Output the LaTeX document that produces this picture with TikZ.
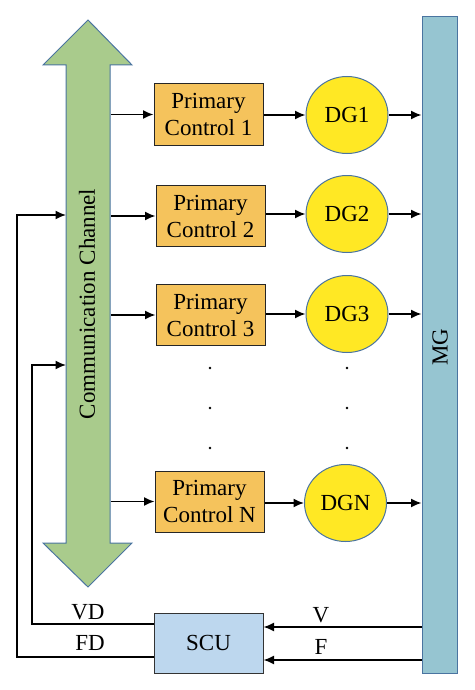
\documentclass[tikz,border=0pt]{standalone}
\usepackage{fontspec}
\setmainfont{Liberation Serif}
\newfontfamily\serifface{Liberation Serif}
\usetikzlibrary{arrows.meta,shapes.geometric}

\definecolor{chgreen}{HTML}{A9CB8C}
\definecolor{chedge}{HTML}{4A74A0}
\definecolor{pcfill}{HTML}{F5C35C}
\definecolor{dgfill}{HTML}{FFE824}
\definecolor{mgfill}{HTML}{96C5D1}
\definecolor{scufill}{HTML}{BDD7EE}

\tikzset{
  txt/.style={font=\serifface\fontsize{23}{27}\selectfont},
  pcbox/.style={txt, draw=black!85, fill=pcfill, line width=1, minimum width=109, minimum height=61, align=center, inner sep=0pt},
  dgnode/.style={txt, ellipse, draw=chedge, fill=dgfill, line width=1, minimum width=82, minimum height=77, inner sep=0pt},
  link/.style={black, line width=1.5, ->, >={Latex[length=10.5pt,width=9pt]}},
}

\begin{document}
\begin{tikzpicture}[x=1pt,y=-1pt]
  \useasboundingbox (0,0) rectangle (474,690);
  % communication channel
  \draw[chedge, fill=chgreen, line width=1] (88,20) -- (132,65) -- (110,65) -- (110,543) -- (132,543)
     -- (88,587) -- (43,543) -- (66,543) -- (66,65) -- (43,65) -- cycle;
  \node[txt, rotate=90] (cc) at (87,304) {Communication Channel};
  \coordinate (chR) at (111,0);
  \coordinate (vdin) at (66,365);
  \coordinate (fdin) at (66,215);
  % MG bus
  \node[draw=chedge, fill=mgfill, line width=1, minimum width=35, minimum height=656, inner sep=0pt] (mg) at (439.5,345) {};
  \node[txt, rotate=90] (mgtxt) at (440,347) {MG};
  % primary controls and DGs
  \node[pcbox] (pc1) at (208.5,114.5) {Primary\\Control 1};
  \node[pcbox] (pc2) at (210.5,216) {Primary\\Control 2};
  \node[pcbox] (pc3) at (210.5,315) {Primary\\Control 3};
  \node[pcbox] (pcN) at (209.5,501.5) {Primary\\Control N};
  \node[dgnode] (dg1) at (347,115) {DG1};
  \node[dgnode] (dg2) at (347,214) {DG2};
  \node[dgnode] (dg3) at (347,314) {DG3};
  \node[dgnode] (dgN) at (345.5,503) {DGN};
  \foreach \p/\d in {pc1/dg1,pc2/dg2,pc3/dg3,pcN/dgN}{
    \draw[link] (chR |- \p.west) -- (\p.west);
    \draw[link] (\p.east |- \d.west) -- (\d.west);
    \draw[link] (\d.east) -- (\d.east -| mg.west);
  }
  % dots
  \foreach \y in {368,408,448}{
    \fill (210,\y) circle (1.3);
    \fill (347,\y) circle (1.3);
  }
  % secondary control
  \node[txt, draw=black!80, fill=scufill, line width=1, minimum width=109, minimum height=60, inner sep=0pt] (scu) at (208.5,643) {SCU};
  \draw[link] ([yshift=16pt]scu.east -| mg.west) -- ([yshift=16pt]scu.east);
  \draw[link] ([yshift=-17pt]scu.east -| mg.west) -- ([yshift=-17pt]scu.east);
  \draw[link] ([yshift=19pt]scu.west) -| ([xshift=-34pt]vdin) -- (vdin);
  \draw[link] ([yshift=-14pt]scu.west) -| ([xshift=-49pt]fdin) -- (fdin);
  \node[txt] (vd) at (88,612) {VD};
  \node[txt] (fd) at (90,643) {FD};
  \node[txt] (v) at (321,615) {V};
  \node[txt] (f) at (321,647) {F};
\end{tikzpicture}
\end{document}
